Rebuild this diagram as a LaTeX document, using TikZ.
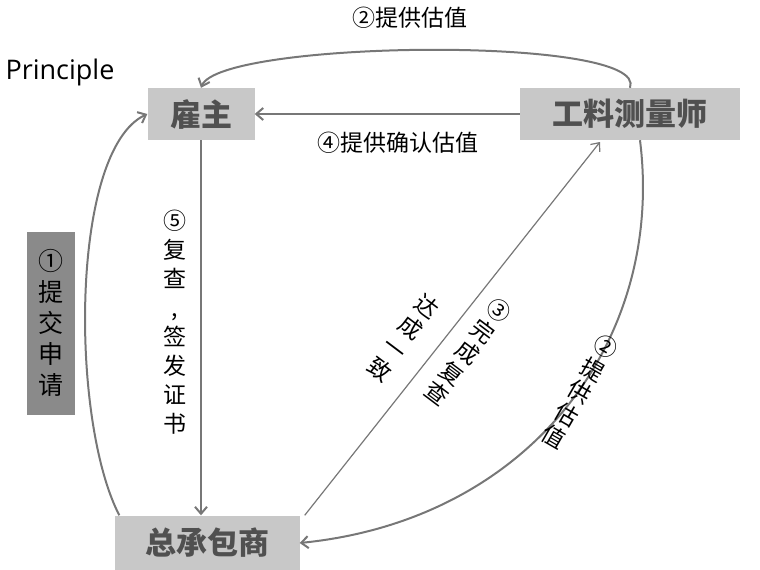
\documentclass[tikz,border=0pt]{standalone}
\usepackage{fontspec}
\setmainfont{Noto Sans CJK SC}
\setsansfont{Open Sans}
\usetikzlibrary{arrows.meta}
\definecolor{boxg}{HTML}{C8C8C8}
\definecolor{darkg}{HTML}{8A8A8A}
\definecolor{txtg}{HTML}{505050}
\definecolor{lineg}{HTML}{777777}
\tikzset{
 box/.style={fill=boxg,text=txtg,font=\fontsize{31}{31}\selectfont\bfseries,inner sep=0pt,minimum height=52pt},
 conn/.style={draw=lineg,line width=2pt,-{Straight Barb[length=7pt,width=12pt]}},
 lab/.style={font=\fontsize{23}{26}\selectfont,text=black,align=center,inner sep=0pt},
}
\begin{document}
\begin{tikzpicture}[x=1pt,y=-1pt]
\useasboundingbox (0,0) rectangle (760,570);
\node[box,minimum width=107pt] (emp) at (201,114) {雇主};
\node[box,minimum width=220pt] (qs) at (630,114) {工料测量师};
\node[box,minimum width=185pt,minimum height=55pt] (gc) at (207,543) {总承包商};
\node[fill=darkg,text=black,minimum width=48pt,minimum height=183pt,inner sep=0pt,lab,font=\fontsize{25}{31}\selectfont] (sub) at (51,323) {①\\提\\交\\申\\请};
\node[anchor=west,font=\sffamily\fontsize{27}{27}\selectfont] (pr) at (2,72) {Principle};
\draw[conn] (qs.north) .. controls (650,35) and (220,40) .. (emp.north);
\node[lab] (l1) at (410,18) {②提供估值};
\draw[conn] (qs.west) -- (emp.east);
\node[lab] (l4) at (398,143) {④提供确认估值};
\draw[conn] (emp.south) -- (gc.north -| emp.south);
\node[lab,font=\fontsize{23}{29}\selectfont] (l5) at (175,322) {⑤\\复\\查\\\rule{0pt}{8pt},\\签\\发\\证\\书};
\draw[conn] (gc.north west) ++(5,0) coordinate (gl) .. controls (70,420) and (70,150) .. (emp.west);
\draw[draw=lineg,line width=1.2pt,-{Straight Barb[length=7pt,width=12pt]}] (gc.north east) ++(5,0) coordinate (gr) -- (600,142) coordinate (qd);
\draw[conn] (qs.south) ++(10,0) coordinate (qr) .. controls (665,340) and (530,520) .. (gc.east);
\node[lab,rotate=-37] (l3a) at (403,338) {达\\成\\一\\致};
\node[lab,rotate=-37] (l3b) at (468,352) {③\\完\\成\\复\\查};
\node[lab,rotate=-30] (l2) at (580,392) {②\\提\\供\\估\\值};
\end{tikzpicture}
\end{document}
